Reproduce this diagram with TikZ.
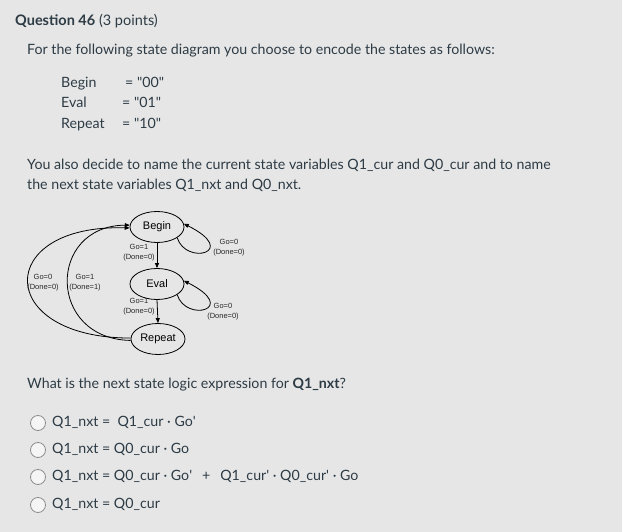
\documentclass[tikz,border=0pt]{standalone}
\usepackage{fontspec}
\setmainfont{Lato}
\newfontfamily\arialf{Liberation Sans}
\usetikzlibrary{arrows.meta,shapes.geometric}
\definecolor{bg}{HTML}{E6E6E6}
\definecolor{txtc}{HTML}{2D3B45}
\newcommand{\qq}{\textquotesingle}
\newcommand{\dq}{\textquotedbl}
\begin{document}
\begin{tikzpicture}[x=1pt,y=-1pt,
  txt/.style={anchor=base west,inner sep=0pt,text=txtc,font=\fontsize{14.2}{17}\selectfont},
  st/.style={draw=black,line width=0.8pt,ellipse,minimum width=54pt,minimum height=31pt,inner sep=0pt,font=\arialf\fontsize{11}{13}\selectfont},
  lbl/.style={inner sep=0pt,align=center,font=\arialf\fontsize{7.5}{10}\selectfont,text=black!85},
  edge/.style={draw=black,line width=0.8pt,-{Triangle[length=5pt,width=4pt]}},
  radio/.style={circle,draw=black!45,fill=bg!40!white,line width=0.8pt,minimum size=15pt,inner sep=0pt}]
\fill[bg] (0,0) rectangle (622,532);
\useasboundingbox (0,0) rectangle (622,532);

\node[txt,font=\fontsize{14.5}{17}\selectfont] (q) at (15,26) {\textbf{Question 46} (3 points)};
\node[txt] (intro) at (27,55) {For the following state diagram you choose to encode the states as follows:};
\node[txt] (e1) at (61,88) {Begin};
\node[txt] (v1) at (125,88) {= \dq00\dq};
\node[txt] (e2) at (61,108) {Eval};
\node[txt] (v2) at (122,108) {= \dq01\dq};
\node[txt] (e3) at (61,129) {Repeat};
\node[txt] (v3) at (122,129) {= \dq10\dq};
\node[txt] (l1) at (27,170) {You also decide to name the current state variables Q1\_cur and Q0\_cur and to name};
\node[txt] (l2) at (27,190) {the next state variables Q1\_nxt and Q0\_nxt.};

% diagram
\node[st] (begin) at (157,227) {Begin};
\node[st] (eval) at (157,284) {Eval};
\node[st] (rep) at (158,339) {Repeat};

\draw[edge] (begin.south) -- (eval.north);
\draw[edge] (eval.south) -- (rep.north);
\node[lbl] (la) at (139,253) {Go=1\\(Done=0)};
\node[lbl] (lb) at (139,307) {Go=1\\(Done=0)};

\draw[edge] (begin.-28) .. controls (186,266) and (240,252) .. (begin.7);
\draw[edge] (eval.-28) .. controls (186,323) and (240,309) .. (eval.7);
\node[lbl] (lc) at (229,248) {Go=0\\(Done=0)};
\node[lbl] (ld) at (223,312) {Go=0\\(Done=0)};

\draw[edge] (rep.178) .. controls (-6,338) and (-6,224) .. (begin.182);
\draw[edge] (rep.183) .. controls (47,339) and (47,226) .. (begin.176);
\node[lbl] (le) at (43,283) {Go=0\\(Done=0)};
\node[lbl] (lf) at (85,283) {Go=1\\(Done=1)};

\node[txt] (ask) at (27,388) {What is the next state logic expression for \textbf{Q1\_nxt}?};

\node[radio] (r1) at (38,423) {};
\node[radio] (r2) at (38,450) {};
\node[radio] (r3) at (38,477) {};
\node[radio] (r4) at (38,505) {};
\node[txt] (o1) at (52,426) {Q1\_nxt =\ \ Q1\_cur · Go\qq};
\node[txt] (o2) at (52,453) {Q1\_nxt = Q0\_cur · Go};
\node[txt] (o3) at (52,480) {Q1\_nxt = Q0\_cur · Go\qq\hspace{10pt}+\hspace{10pt}Q1\_cur\qq\ · Q0\_cur\qq\ · Go};
\node[txt] (o4) at (52,508) {Q1\_nxt = Q0\_cur};
\end{tikzpicture}
\end{document}
